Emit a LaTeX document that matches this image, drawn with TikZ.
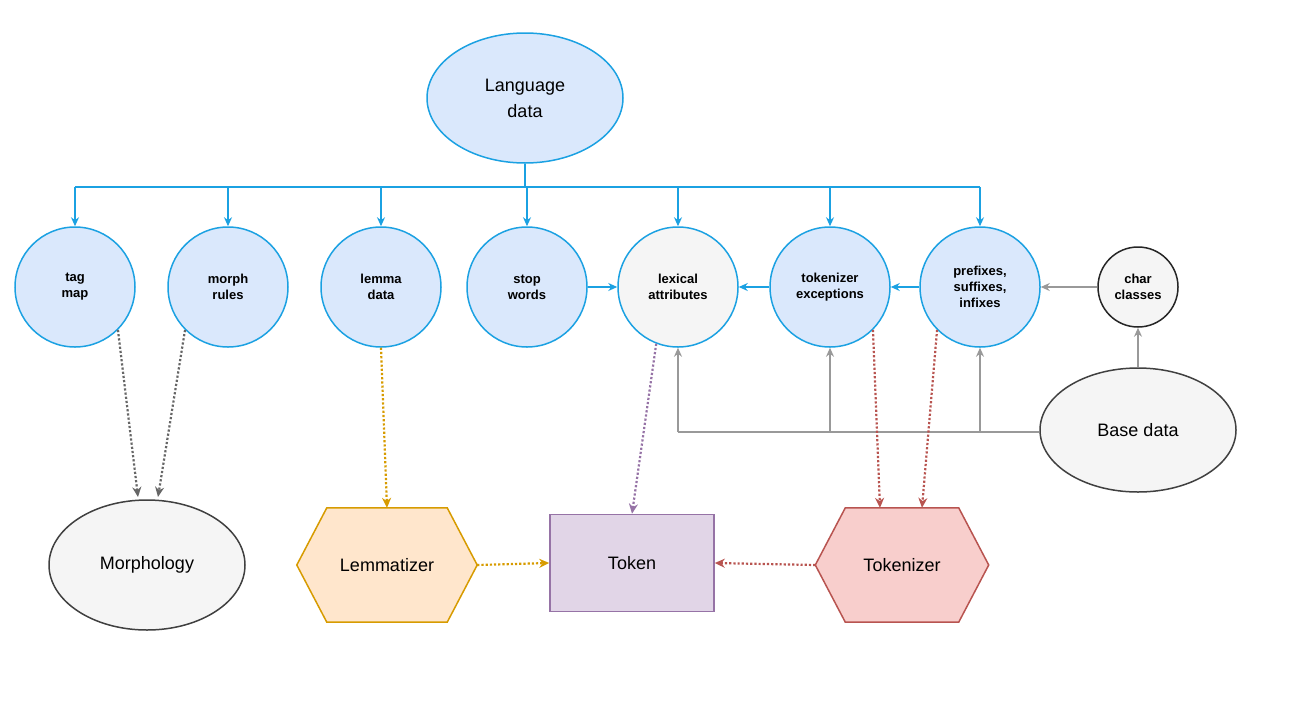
\documentclass[tikz,border=0pt]{standalone}
\usepackage{fontspec}
\setmainfont{Liberation Sans}
\usetikzlibrary{arrows.meta,shapes.geometric}
\definecolor{bfill}{HTML}{DAE8FC}
\definecolor{bline}{HTML}{1BA1E2}
\definecolor{gfill}{HTML}{F5F5F5}
\definecolor{gline}{HTML}{666666}
\definecolor{oline}{HTML}{D79B00}
\definecolor{ofill}{HTML}{FFE6CC}
\definecolor{pline}{HTML}{9673A6}
\definecolor{pfill}{HTML}{E1D5E7}
\definecolor{rline}{HTML}{B85450}
\definecolor{rfill}{HTML}{F8CECC}
\definecolor{garrow}{HTML}{999999}
\begin{document}
\begin{tikzpicture}[x=1pt,y=-1pt,
  circ/.style={circle,draw=bline,fill=bfill,line width=1.5pt,minimum size=120pt,inner sep=0pt,align=center,font=\bfseries\fontsize{13}{16}\selectfont},
  gcirc/.style={circ,draw=black!80,fill=gfill},
  big/.style={font=\fontsize{18}{26}\selectfont,align=center},
  barr/.style={draw=bline,line width=1.5pt,-{Stealth[length=9pt,width=8pt]}},
  garr/.style={draw=garrow,line width=1.5pt,-{Stealth[length=9pt,width=8pt]}},
  dot/.style={line width=2.2pt,dotted,-{Stealth[length=10pt,width=9pt]}}]
\useasboundingbox (0,0) rectangle (1314,718);
\node[ellipse,draw=bline,fill=bfill,line width=1.5pt,minimum width=196pt,minimum height=130pt,big] (lang) at (525,98) {Language\\data};
\node[circ] (tag) at (75,287) {tag\\map};
\node[circ] (morph) at (228,287) {morph\\rules};
\node[circ] (lemma) at (381,287) {lemma\\data};
\node[circ] (stop) at (527,287) {stop\\words};
\node[gcirc,draw=bline] (lex) at (678,287) {lexical\\attributes};
\node[circ] (tokx) at (830,287) {tokenizer\\exceptions};
\node[circ] (pre) at (980,287) {prefixes,\\suffixes,\\infixes};
\node[gcirc,minimum size=80pt,draw=black!85] (char) at (1138,287) {char\\classes};
\node[ellipse,draw=black!75,fill=gfill,line width=1.5pt,minimum width=196pt,minimum height=124pt,big] (base) at (1138,430) {Base data};
\node[ellipse,draw=black!75,fill=gfill,line width=1.5pt,minimum width=196pt,minimum height=130pt,big] (morpho) at (147,565) {Morphology};
\node[draw=pline,fill=pfill,line width=1.5pt,minimum width=164pt,minimum height=97pt,big] (token) at (632,563) {Token};
% hexagons
\node[minimum width=180pt,minimum height=114pt,inner sep=0pt] (lemz) at (387,565) {};
\draw[draw=oline,fill=ofill,line width=1.5pt] (lemz.west) -- ([xshift=30pt]lemz.north west) -- ([xshift=-30pt]lemz.north east) -- (lemz.east) -- ([xshift=-30pt]lemz.south east) -- ([xshift=30pt]lemz.south west) -- cycle;
\node[big] at (lemz) {Lemmatizer};
\node[minimum width=173pt,minimum height=114pt,inner sep=0pt] (tokz) at (902,565) {};
\draw[draw=rline,fill=rfill,line width=1.5pt] (tokz.west) -- ([xshift=30pt]tokz.north west) -- ([xshift=-30pt]tokz.north east) -- (tokz.east) -- ([xshift=-30pt]tokz.south east) -- ([xshift=30pt]tokz.south west) -- cycle;
\node[big] at (tokz) {Tokenizer};
% blue tree
\coordinate (j) at (525,187);
\draw[bline,line width=1.5pt] (lang.south) -- (j);
\draw[bline,line width=1.5pt] (75,187) -- (980,187);
\foreach \n in {tag,morph,lemma,stop,lex,tokx,pre}
  \draw[barr] (\n.north |- j) -- (\n.north);
\draw[barr] (stop) -- (lex);
\draw[barr] (tokx) -- (lex);
\draw[barr] (pre) -- (tokx);
% gray
\draw[garr] (char) -- (pre);
\draw[garr] (base) -- (char);
\coordinate (g) at (678,432);
\draw[draw=garrow,line width=1.5pt] (base.west |- g) -- (g);
\draw[garr] (g) -- (lex.south);
\draw[garr] (tokx.south |- g) -- (tokx.south);
\draw[garr] (pre.south |- g) -- (pre.south);
% dotted
\draw[dot,draw=gline] (tag.-45) -- (138,497);
\draw[dot,draw=gline] (morph.-135) -- (158,497);
\draw[dot,draw=oline] (lemma.south) -- (lemz.north);
\draw[dot,draw=pline] (lex.-111) -- (token.north);
\draw[dot,draw=rline] (tokx.-45) -- ([xshift=-22pt]tokz.north);
\draw[dot,draw=rline] (pre.-135) -- ([xshift=20pt]tokz.north);
\draw[dot,draw=oline] (lemz.east) -- (token.west);
\draw[dot,draw=rline] (tokz.west) -- (token.east);
\end{tikzpicture}
\end{document}
